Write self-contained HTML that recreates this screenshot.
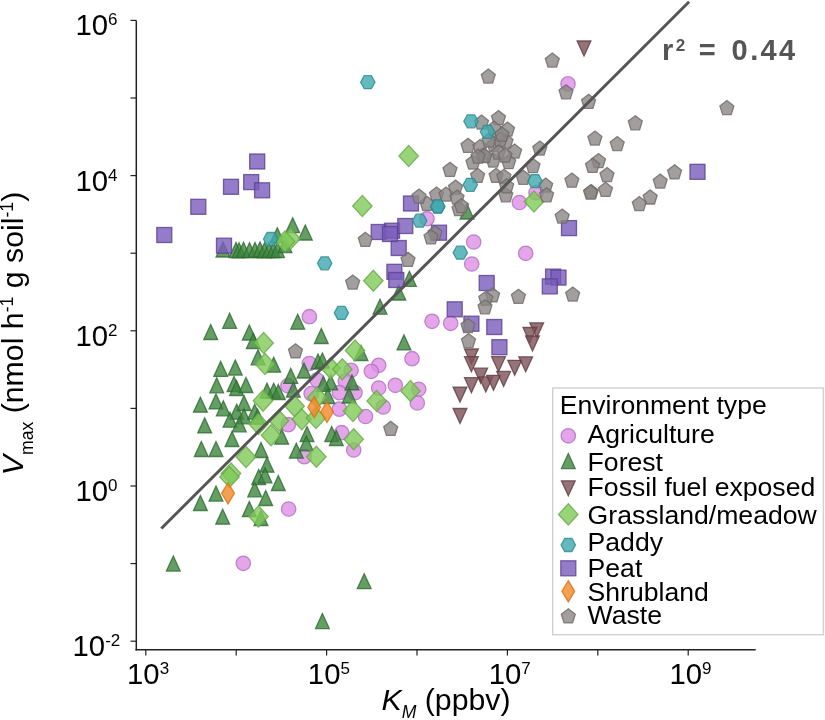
<!DOCTYPE html>
<html><head><meta charset="utf-8"><style>
html,body{margin:0;padding:0;background:#fff;}
svg{display:block;}
text{font-family:"Liberation Sans",Arial,sans-serif;fill:#000;}
.mA{fill:#dd8ee6;fill-opacity:0.8;stroke:#b070c0;stroke-opacity:0.8;stroke-width:1.3px}
.mF{fill:#3d863d;fill-opacity:0.8;stroke:#2e6a30;stroke-opacity:0.8;stroke-width:1.3px}
.mV{fill:#7c5056;fill-opacity:0.8;stroke:#5e3c42;stroke-opacity:0.8;stroke-width:1.3px}
.mG{fill:#80c958;fill-opacity:0.8;stroke:#68a848;stroke-opacity:0.8;stroke-width:1.3px}
.mP{fill:#3da8ae;fill-opacity:0.8;stroke:#2a8a8e;stroke-opacity:0.8;stroke-width:1.3px}
.mQ{fill:#795bba;fill-opacity:0.8;stroke:#5a4090;stroke-opacity:0.8;stroke-width:1.3px}
.mS{fill:#f28824;fill-opacity:0.8;stroke:#d87018;stroke-opacity:0.8;stroke-width:1.3px}
.mW{fill:#8b8686;fill-opacity:0.8;stroke:#6e6868;stroke-opacity:0.8;stroke-width:1.3px}
</style></head><body>
<svg width="825" height="720" viewBox="0 0 825 720">
<rect width="825" height="720" fill="#fff"/>
<g>
<circle cx="243.3" cy="563.3" r="7.20" class="mA"/>
<circle cx="309.4" cy="316.7" r="7.20" class="mA"/>
<circle cx="309.3" cy="363.5" r="7.20" class="mA"/>
<circle cx="351.1" cy="370.3" r="7.20" class="mA"/>
<circle cx="317.1" cy="380.0" r="7.20" class="mA"/>
<circle cx="345.3" cy="381.0" r="7.20" class="mA"/>
<circle cx="311.2" cy="393.6" r="7.20" class="mA"/>
<circle cx="339.4" cy="392.6" r="7.20" class="mA"/>
<circle cx="355.0" cy="392.6" r="7.20" class="mA"/>
<circle cx="339.4" cy="409.1" r="7.20" class="mA"/>
<circle cx="287.9" cy="385.8" r="7.20" class="mA"/>
<circle cx="304.3" cy="456.7" r="7.20" class="mA"/>
<circle cx="288.3" cy="424.7" r="7.20" class="mA"/>
<circle cx="341.7" cy="432.7" r="7.20" class="mA"/>
<circle cx="353.7" cy="450.0" r="7.20" class="mA"/>
<circle cx="365.5" cy="416.5" r="7.20" class="mA"/>
<circle cx="288.6" cy="509.0" r="7.20" class="mA"/>
<circle cx="432.0" cy="321.3" r="7.20" class="mA"/>
<circle cx="450.7" cy="323.3" r="7.20" class="mA"/>
<circle cx="412.0" cy="358.7" r="7.20" class="mA"/>
<circle cx="378.7" cy="365.3" r="7.20" class="mA"/>
<circle cx="371.3" cy="371.3" r="7.20" class="mA"/>
<circle cx="378.7" cy="388.0" r="7.20" class="mA"/>
<circle cx="395.3" cy="385.3" r="7.20" class="mA"/>
<circle cx="418.7" cy="389.3" r="7.20" class="mA"/>
<circle cx="417.3" cy="403.0" r="7.20" class="mA"/>
<circle cx="383.3" cy="407.0" r="7.20" class="mA"/>
<circle cx="427.0" cy="218.7" r="7.20" class="mA"/>
<circle cx="473.7" cy="242.0" r="7.20" class="mA"/>
<circle cx="471.7" cy="264.0" r="7.20" class="mA"/>
<circle cx="536.0" cy="192.7" r="7.20" class="mA"/>
<circle cx="519.4" cy="202.5" r="7.20" class="mA"/>
<circle cx="568.0" cy="83.9" r="7.20" class="mA"/>
<circle cx="525.7" cy="253.3" r="7.20" class="mA"/>
<path d="M223.0 242.0L229.9 257.0L216.1 257.0Z" class="mF"/>
<path d="M236.0 242.5L242.9 257.5L229.1 257.5Z" class="mF"/>
<path d="M239.0 242.8L245.9 257.8L232.1 257.8Z" class="mF"/>
<path d="M243.5 242.3L250.4 257.3L236.6 257.3Z" class="mF"/>
<path d="M249.5 242.7L256.4 257.7L242.6 257.7Z" class="mF"/>
<path d="M255.0 242.5L261.9 257.5L248.1 257.5Z" class="mF"/>
<path d="M260.0 242.0L266.9 257.0L253.1 257.0Z" class="mF"/>
<path d="M264.5 242.8L271.4 257.8L257.6 257.8Z" class="mF"/>
<path d="M269.0 242.5L275.9 257.5L262.1 257.5Z" class="mF"/>
<path d="M273.5 242.7L280.4 257.7L266.6 257.7Z" class="mF"/>
<path d="M277.5 242.5L284.4 257.5L270.6 257.5Z" class="mF"/>
<path d="M285.0 237.5L291.9 252.5L278.1 252.5Z" class="mF"/>
<path d="M277.3 227.7L284.2 242.7L270.4 242.7Z" class="mF"/>
<path d="M292.7 217.7L299.6 232.7L285.8 232.7Z" class="mF"/>
<path d="M305.3 225.0L312.2 240.0L298.4 240.0Z" class="mF"/>
<path d="M229.6 313.3L236.5 328.3L222.7 328.3Z" class="mF"/>
<path d="M210.7 324.5L217.6 339.5L203.8 339.5Z" class="mF"/>
<path d="M249.3 325.0L256.2 340.0L242.4 340.0Z" class="mF"/>
<path d="M253.3 333.5L260.2 348.5L246.4 348.5Z" class="mF"/>
<path d="M258.0 349.8L264.9 364.8L251.1 364.8Z" class="mF"/>
<path d="M220.7 361.4L227.6 376.4L213.8 376.4Z" class="mF"/>
<path d="M235.3 360.1L242.2 375.1L228.4 375.1Z" class="mF"/>
<path d="M216.7 377.8L223.6 392.8L209.8 392.8Z" class="mF"/>
<path d="M234.0 376.5L240.9 391.5L227.1 391.5Z" class="mF"/>
<path d="M236.5 380.5L243.4 395.5L229.6 395.5Z" class="mF"/>
<path d="M246.0 377.5L252.9 392.5L239.1 392.5Z" class="mF"/>
<path d="M200.4 397.2L207.3 412.2L193.5 412.2Z" class="mF"/>
<path d="M216.0 393.9L222.9 408.9L209.1 408.9Z" class="mF"/>
<path d="M223.3 400.8L230.2 415.8L216.4 415.8Z" class="mF"/>
<path d="M236.7 404.2L243.6 419.2L229.8 419.2Z" class="mF"/>
<path d="M244.0 395.5L250.9 410.5L237.1 410.5Z" class="mF"/>
<path d="M244.0 408.8L250.9 423.8L237.1 423.8Z" class="mF"/>
<path d="M230.0 412.2L236.9 427.2L223.1 427.2Z" class="mF"/>
<path d="M239.3 416.8L246.2 431.8L232.4 431.8Z" class="mF"/>
<path d="M204.7 417.9L211.6 432.9L197.8 432.9Z" class="mF"/>
<path d="M232.0 431.5L238.9 446.5L225.1 446.5Z" class="mF"/>
<path d="M201.3 441.5L208.2 456.5L194.4 456.5Z" class="mF"/>
<path d="M216.0 441.5L222.9 456.5L209.1 456.5Z" class="mF"/>
<path d="M261.0 442.5L267.9 457.5L254.1 457.5Z" class="mF"/>
<path d="M254.7 404.2L261.6 419.2L247.8 419.2Z" class="mF"/>
<path d="M216.0 486.1L222.9 501.1L209.1 501.1Z" class="mF"/>
<path d="M200.4 495.5L207.3 510.5L193.5 510.5Z" class="mF"/>
<path d="M222.7 509.2L229.6 524.2L215.8 524.2Z" class="mF"/>
<path d="M254.7 481.8L261.6 496.8L247.8 496.8Z" class="mF"/>
<path d="M249.3 501.5L256.2 516.5L242.4 516.5Z" class="mF"/>
<path d="M258.7 469.5L265.6 484.5L251.8 484.5Z" class="mF"/>
<path d="M173.3 556.1L180.2 571.1L166.4 571.1Z" class="mF"/>
<path d="M297.7 314.2L304.6 329.2L290.8 329.2Z" class="mF"/>
<path d="M321.3 328.5L328.2 343.5L314.4 343.5Z" class="mF"/>
<path d="M273.7 357.2L280.6 372.2L266.8 372.2Z" class="mF"/>
<path d="M290.8 368.4L297.7 383.4L283.9 383.4Z" class="mF"/>
<path d="M304.0 363.0L310.9 378.0L297.1 378.0Z" class="mF"/>
<path d="M293.3 382.2L300.2 397.2L286.4 397.2Z" class="mF"/>
<path d="M318.0 354.0L324.9 369.0L311.1 369.0Z" class="mF"/>
<path d="M322.4 353.0L329.3 368.0L315.5 368.0Z" class="mF"/>
<path d="M330.7 374.9L337.6 389.9L323.8 389.9Z" class="mF"/>
<path d="M323.4 376.4L330.3 391.4L316.5 391.4Z" class="mF"/>
<path d="M352.0 374.9L358.9 389.9L345.1 389.9Z" class="mF"/>
<path d="M327.8 388.5L334.7 403.5L320.9 403.5Z" class="mF"/>
<path d="M349.1 388.0L356.0 403.0L342.2 403.0Z" class="mF"/>
<path d="M267.0 383.2L273.9 398.2L260.1 398.2Z" class="mF"/>
<path d="M273.7 383.2L280.6 398.2L266.8 398.2Z" class="mF"/>
<path d="M278.3 384.5L285.2 399.5L271.4 399.5Z" class="mF"/>
<path d="M257.7 409.2L264.6 424.2L250.8 424.2Z" class="mF"/>
<path d="M281.7 429.2L288.6 444.2L274.8 444.2Z" class="mF"/>
<path d="M267.0 457.2L273.9 472.2L260.1 472.2Z" class="mF"/>
<path d="M265.0 467.8L271.9 482.8L258.1 482.8Z" class="mF"/>
<path d="M278.3 475.5L285.2 490.5L271.4 490.5Z" class="mF"/>
<path d="M307.0 426.5L313.9 441.5L300.1 441.5Z" class="mF"/>
<path d="M296.3 443.2L303.2 458.2L289.4 458.2Z" class="mF"/>
<path d="M306.3 435.8L313.2 450.8L299.4 450.8Z" class="mF"/>
<path d="M331.7 426.5L338.6 441.5L324.8 441.5Z" class="mF"/>
<path d="M336.3 430.5L343.2 445.5L329.4 445.5Z" class="mF"/>
<path d="M265.7 490.5L272.6 505.5L258.8 505.5Z" class="mF"/>
<path d="M261.0 510.5L267.9 525.5L254.1 525.5Z" class="mF"/>
<path d="M380.0 299.2L386.9 314.2L373.1 314.2Z" class="mF"/>
<path d="M404.0 334.9L410.9 349.9L397.1 349.9Z" class="mF"/>
<path d="M361.0 345.5L367.9 360.5L354.1 360.5Z" class="mF"/>
<path d="M364.2 573.7L371.1 588.7L357.3 588.7Z" class="mF"/>
<path d="M322.4 613.6L329.3 628.6L315.5 628.6Z" class="mF"/>
<path d="M409.4 271.3L416.3 286.3L402.5 286.3Z" class="mF"/>
<path d="M467.0 204.0L473.9 219.0L460.1 219.0Z" class="mF"/>
<path d="M398.8 285.0L405.7 300.0L391.9 300.0Z" class="mF"/>
<path d="M460.0 402.1L466.9 387.1L453.1 387.1Z" class="mV"/>
<path d="M460.0 423.5L466.9 408.5L453.1 408.5Z" class="mV"/>
<path d="M584.0 56.0L590.9 41.0L577.1 41.0Z" class="mV"/>
<path d="M536.7 337.8L543.6 322.8L529.8 322.8Z" class="mV"/>
<path d="M529.9 342.5L536.8 327.5L523.0 327.5Z" class="mV"/>
<path d="M532.5 351.0L539.4 336.0L525.6 336.0Z" class="mV"/>
<path d="M471.4 364.0L478.3 349.0L464.5 349.0Z" class="mV"/>
<path d="M471.4 371.7L478.3 356.7L464.5 356.7Z" class="mV"/>
<path d="M498.5 371.7L505.4 356.7L491.6 356.7Z" class="mV"/>
<path d="M480.7 383.2L487.6 368.2L473.8 368.2Z" class="mV"/>
<path d="M485.8 391.9L492.7 376.9L478.9 376.9Z" class="mV"/>
<path d="M493.5 390.3L500.4 375.3L486.6 375.3Z" class="mV"/>
<path d="M503.6 386.4L510.5 371.4L496.7 371.4Z" class="mV"/>
<path d="M514.7 375.3L521.6 360.3L507.8 360.3Z" class="mV"/>
<path d="M525.7 371.8L532.6 356.8L518.8 356.8Z" class="mV"/>
<path d="M471.4 392.7L478.3 377.7L464.5 377.7Z" class="mV"/>
<path d="M290.5 228.2L300.2 238.8L290.5 249.4L280.8 238.8Z" class="mG"/>
<path d="M285.0 230.9L294.8 241.5L285.0 252.1L275.2 241.5Z" class="mG"/>
<path d="M246.0 446.4L255.8 457.0L246.0 467.6L236.2 457.0Z" class="mG"/>
<path d="M231.0 462.9L240.8 473.5L231.0 484.1L221.2 473.5Z" class="mG"/>
<path d="M258.5 413.4L268.2 424.0L258.5 434.6L248.8 424.0Z" class="mG"/>
<path d="M229.5 466.4L239.2 477.0L229.5 487.6L219.8 477.0Z" class="mG"/>
<path d="M258.5 505.9L268.2 516.5L258.5 527.1L248.8 516.5Z" class="mG"/>
<path d="M263.7 332.4L273.4 343.0L263.7 353.6L253.9 343.0Z" class="mG"/>
<path d="M265.0 353.4L274.8 364.0L265.0 374.6L255.2 364.0Z" class="mG"/>
<path d="M355.0 339.9L364.8 350.5L355.0 361.1L345.2 350.5Z" class="mG"/>
<path d="M330.7 357.7L340.4 368.3L330.7 378.9L320.9 368.3Z" class="mG"/>
<path d="M342.3 358.7L352.1 369.3L342.3 379.9L332.6 369.3Z" class="mG"/>
<path d="M294.7 395.6L304.4 406.2L294.7 416.8L284.9 406.2Z" class="mG"/>
<path d="M317.1 386.9L326.9 397.5L317.1 408.1L307.4 397.5Z" class="mG"/>
<path d="M353.0 400.4L362.8 411.0L353.0 421.6L343.2 411.0Z" class="mG"/>
<path d="M263.0 390.1L272.8 400.7L263.0 411.3L253.2 400.7Z" class="mG"/>
<path d="M279.0 410.1L288.8 420.7L279.0 431.3L269.2 420.7Z" class="mG"/>
<path d="M271.0 424.7L280.8 435.3L271.0 445.9L261.2 435.3Z" class="mG"/>
<path d="M301.7 408.7L311.4 419.3L301.7 429.9L291.9 419.3Z" class="mG"/>
<path d="M316.3 446.1L326.1 456.7L316.3 467.3L306.6 456.7Z" class="mG"/>
<path d="M353.7 428.7L363.4 439.3L353.7 449.9L343.9 439.3Z" class="mG"/>
<path d="M316.0 407.4L325.8 418.0L316.0 428.6L306.2 418.0Z" class="mG"/>
<path d="M376.7 390.4L386.4 401.0L376.7 411.6L366.9 401.0Z" class="mG"/>
<path d="M362.3 195.4L372.1 206.0L362.3 216.6L352.6 206.0Z" class="mG"/>
<path d="M373.3 270.1L383.1 280.7L373.3 291.3L363.6 280.7Z" class="mG"/>
<path d="M408.7 145.4L418.4 156.0L408.7 166.6L398.9 156.0Z" class="mG"/>
<path d="M534.0 190.9L543.8 201.5L534.0 212.1L524.2 201.5Z" class="mG"/>
<path d="M410.5 380.4L420.2 391.0L410.5 401.6L400.8 391.0Z" class="mG"/>
<rect x="249.7" y="154.0" width="15.0" height="15.0" class="mQ"/>
<rect x="223.5" y="179.3" width="15.0" height="15.0" class="mQ"/>
<rect x="243.7" y="174.6" width="15.0" height="15.0" class="mQ"/>
<rect x="254.6" y="182.8" width="15.0" height="15.0" class="mQ"/>
<rect x="190.8" y="199.3" width="15.0" height="15.0" class="mQ"/>
<rect x="156.8" y="227.5" width="15.0" height="15.0" class="mQ"/>
<rect x="216.5" y="238.2" width="15.0" height="15.0" class="mQ"/>
<rect x="447.2" y="301.8" width="15.0" height="15.0" class="mQ"/>
<rect x="371.2" y="224.5" width="15.0" height="15.0" class="mQ"/>
<rect x="384.5" y="223.2" width="15.0" height="15.0" class="mQ"/>
<rect x="397.8" y="218.5" width="15.0" height="15.0" class="mQ"/>
<rect x="391.2" y="240.5" width="15.0" height="15.0" class="mQ"/>
<rect x="403.5" y="196.0" width="15.0" height="15.0" class="mQ"/>
<rect x="386.9" y="264.3" width="15.0" height="15.0" class="mQ"/>
<rect x="431.5" y="225.2" width="15.0" height="15.0" class="mQ"/>
<rect x="479.2" y="275.5" width="15.0" height="15.0" class="mQ"/>
<rect x="690.0" y="164.3" width="15.0" height="15.0" class="mQ"/>
<rect x="561.5" y="220.6" width="15.0" height="15.0" class="mQ"/>
<rect x="545.6" y="269.1" width="15.0" height="15.0" class="mQ"/>
<rect x="551.0" y="270.1" width="15.0" height="15.0" class="mQ"/>
<rect x="542.3" y="278.9" width="15.0" height="15.0" class="mQ"/>
<rect x="463.9" y="316.2" width="15.0" height="15.0" class="mQ"/>
<rect x="486.8" y="319.5" width="15.0" height="15.0" class="mQ"/>
<rect x="491.9" y="339.7" width="15.0" height="15.0" class="mQ"/>
<rect x="382.5" y="226.5" width="15.0" height="15.0" class="mQ"/>
<rect x="388.8" y="272.5" width="15.0" height="15.0" class="mQ"/>
<path d="M228.0 482.7L234.4 493.3L228.0 503.9L221.6 493.3Z" class="mS"/>
<path d="M314.2 396.6L320.6 407.2L314.2 417.8L307.8 407.2Z" class="mS"/>
<path d="M327.0 401.4L333.4 412.0L327.0 422.6L320.6 412.0Z" class="mS"/>
<polygon points="295.5,343.8 302.5,349.2 299.8,357.9 291.2,357.9 288.5,349.2" class="mW"/>
<polygon points="390.7,421.3 397.7,426.7 395.0,435.4 386.4,435.4 383.7,426.7" class="mW"/>
<polygon points="365.3,232.3 372.3,237.7 369.6,246.4 361.0,246.4 358.3,237.7" class="mW"/>
<polygon points="352.7,275.0 359.7,280.4 357.0,289.1 348.4,289.1 345.7,280.4" class="mW"/>
<polygon points="408.0,252.3 415.0,257.7 412.3,266.4 403.7,266.4 401.0,257.7" class="mW"/>
<polygon points="427.0,196.3 434.0,201.7 431.3,210.4 422.7,210.4 420.0,201.7" class="mW"/>
<polygon points="435.0,225.7 442.0,231.1 439.3,239.8 430.7,239.8 428.0,231.1" class="mW"/>
<polygon points="431.0,229.7 438.0,235.1 435.3,243.8 426.7,243.8 424.0,235.1" class="mW"/>
<polygon points="419.0,189.0 426.0,194.4 423.3,203.1 414.7,203.1 412.0,194.4" class="mW"/>
<polygon points="436.5,187.0 443.5,192.4 440.8,201.1 432.2,201.1 429.5,192.4" class="mW"/>
<polygon points="446.0,187.0 453.0,192.4 450.3,201.1 441.7,201.1 439.0,192.4" class="mW"/>
<polygon points="455.5,180.0 462.5,185.4 459.8,194.1 451.2,194.1 448.5,185.4" class="mW"/>
<polygon points="457.0,190.0 464.0,195.4 461.3,204.1 452.7,204.1 450.0,195.4" class="mW"/>
<polygon points="459.0,201.5 466.0,206.9 463.3,215.6 454.7,215.6 452.0,206.9" class="mW"/>
<polygon points="450.0,162.3 457.0,167.7 454.3,176.4 445.7,176.4 443.0,167.7" class="mW"/>
<polygon points="481.5,115.0 488.5,120.4 485.8,129.1 477.2,129.1 474.5,120.4" class="mW"/>
<polygon points="498.5,110.5 505.5,115.9 502.8,124.6 494.2,124.6 491.5,115.9" class="mW"/>
<polygon points="468.0,138.3 475.0,143.7 472.3,152.4 463.7,152.4 461.0,143.7" class="mW"/>
<polygon points="480.0,139.5 487.0,144.9 484.3,153.6 475.7,153.6 473.0,144.9" class="mW"/>
<polygon points="494.0,137.2 501.0,142.6 498.3,151.3 489.7,151.3 487.0,142.6" class="mW"/>
<polygon points="506.0,134.0 513.0,139.4 510.3,148.1 501.7,148.1 499.0,139.4" class="mW"/>
<polygon points="507.5,122.0 514.5,127.4 511.8,136.1 503.2,136.1 500.5,127.4" class="mW"/>
<polygon points="514.6,144.0 521.6,149.4 518.9,158.1 510.3,158.1 507.6,149.4" class="mW"/>
<polygon points="473.0,155.0 480.0,160.4 477.3,169.1 468.7,169.1 466.0,160.4" class="mW"/>
<polygon points="493.2,153.0 500.2,158.4 497.5,167.1 488.9,167.1 486.2,158.4" class="mW"/>
<polygon points="508.7,154.6 515.7,160.0 513.0,168.7 504.4,168.7 501.7,160.0" class="mW"/>
<polygon points="483.0,148.0 490.0,153.4 487.3,162.1 478.7,162.1 476.0,153.4" class="mW"/>
<polygon points="477.6,168.3 484.6,173.7 481.9,182.4 473.3,182.4 470.6,173.7" class="mW"/>
<polygon points="496.1,168.3 503.1,173.7 500.4,182.4 491.8,182.4 489.1,173.7" class="mW"/>
<polygon points="503.9,169.2 510.9,174.6 508.2,183.3 499.6,183.3 496.9,174.6" class="mW"/>
<polygon points="539.8,141.0 546.8,146.4 544.1,155.1 535.5,155.1 532.8,146.4" class="mW"/>
<polygon points="533.0,158.5 540.0,163.9 537.3,172.6 528.7,172.6 526.0,163.9" class="mW"/>
<polygon points="523.3,170.2 530.3,175.6 527.6,184.3 519.0,184.3 516.3,175.6" class="mW"/>
<polygon points="545.7,178.0 552.7,183.4 550.0,192.1 541.4,192.1 538.7,183.4" class="mW"/>
<polygon points="546.6,187.7 553.6,193.1 550.9,201.8 542.3,201.8 539.6,193.1" class="mW"/>
<polygon points="505.8,187.7 512.8,193.1 510.1,201.8 501.5,201.8 498.8,193.1" class="mW"/>
<polygon points="506.7,178.7 513.7,184.1 511.0,192.8 502.4,192.8 499.7,184.1" class="mW"/>
<polygon points="571.9,173.1 578.9,178.5 576.2,187.2 567.6,187.2 564.9,178.5" class="mW"/>
<polygon points="562.2,209.0 569.2,214.4 566.5,223.1 557.9,223.1 555.2,214.4" class="mW"/>
<polygon points="488.3,69.0 495.3,74.4 492.6,83.1 484.0,83.1 481.3,74.4" class="mW"/>
<polygon points="566.0,84.7 573.0,90.1 570.3,98.8 561.7,98.8 559.0,90.1" class="mW"/>
<polygon points="588.6,94.3 595.6,99.7 592.9,108.4 584.3,108.4 581.6,99.7" class="mW"/>
<polygon points="500.2,132.3 507.2,137.7 504.5,146.4 495.9,146.4 493.2,137.7" class="mW"/>
<polygon points="484.8,148.6 491.8,154.0 489.1,162.7 480.5,162.7 477.8,154.0" class="mW"/>
<polygon points="498.4,145.0 505.4,150.4 502.7,159.1 494.1,159.1 491.4,150.4" class="mW"/>
<polygon points="494.0,121.0 501.0,126.4 498.3,135.1 489.7,135.1 487.0,126.4" class="mW"/>
<polygon points="635.3,115.7 642.3,121.1 639.6,129.8 631.0,129.8 628.3,121.1" class="mW"/>
<polygon points="726.9,100.5 733.9,105.9 731.2,114.6 722.6,114.6 719.9,105.9" class="mW"/>
<polygon points="594.9,131.0 601.9,136.4 599.2,145.1 590.6,145.1 587.9,136.4" class="mW"/>
<polygon points="617.2,136.5 624.2,141.9 621.5,150.6 612.9,150.6 610.2,141.9" class="mW"/>
<polygon points="598.5,153.5 605.5,158.9 602.8,167.6 594.2,167.6 591.5,158.9" class="mW"/>
<polygon points="592.5,158.3 599.5,163.7 596.8,172.4 588.2,172.4 585.5,163.7" class="mW"/>
<polygon points="607.0,167.5 614.0,172.9 611.3,181.6 602.7,181.6 600.0,172.9" class="mW"/>
<polygon points="674.6,164.8 681.6,170.2 678.9,178.9 670.3,178.9 667.6,170.2" class="mW"/>
<polygon points="660.2,174.0 667.2,179.4 664.5,188.1 655.9,188.1 653.2,179.4" class="mW"/>
<polygon points="591.3,184.5 598.3,189.9 595.6,198.6 587.0,198.6 584.3,189.9" class="mW"/>
<polygon points="605.5,182.3 612.5,187.7 609.8,196.4 601.2,196.4 598.5,187.7" class="mW"/>
<polygon points="650.2,189.9 657.2,195.3 654.5,204.0 645.9,204.0 643.2,195.3" class="mW"/>
<polygon points="639.3,196.5 646.3,201.9 643.6,210.6 635.0,210.6 632.3,201.9" class="mW"/>
<polygon points="572.7,287.0 579.7,292.4 577.0,301.1 568.4,301.1 565.7,292.4" class="mW"/>
<polygon points="492.6,287.8 499.6,293.2 496.9,301.9 488.3,301.9 485.6,293.2" class="mW"/>
<polygon points="485.8,291.2 492.8,296.6 490.1,305.3 481.5,305.3 478.8,296.6" class="mW"/>
<polygon points="485.0,299.7 492.0,305.1 489.3,313.8 480.7,313.8 478.0,305.1" class="mW"/>
<polygon points="518.4,289.2 525.4,294.6 522.7,303.3 514.1,303.3 511.4,294.6" class="mW"/>
<polygon points="468.0,318.4 475.0,323.8 472.3,332.5 463.7,332.5 461.0,323.8" class="mW"/>
<polygon points="468.5,333.5 475.5,338.9 472.8,347.6 464.2,347.6 461.5,338.9" class="mW"/>
<polygon points="489.0,133.0 496.0,138.4 493.3,147.1 484.7,147.1 482.0,138.4" class="mW"/>
<polygon points="502.0,127.0 509.0,132.4 506.3,141.1 497.7,141.1 495.0,132.4" class="mW"/>
<polygon points="478.0,149.0 485.0,154.4 482.3,163.1 473.7,163.1 471.0,154.4" class="mW"/>
<polygon points="505.0,148.0 512.0,153.4 509.3,162.1 500.7,162.1 498.0,153.4" class="mW"/>
<polygon points="461.5,198.5 468.5,203.9 465.8,212.6 457.2,212.6 454.5,203.9" class="mW"/>
<polygon points="552.3,53.0 559.3,58.4 556.6,67.1 548.0,67.1 545.3,58.4" class="mW"/>
<polygon points="590.5,185.0 597.5,190.4 594.8,199.1 586.2,199.1 583.5,190.4" class="mW"/>
<polygon points="277.9,239.0 274.3,245.5 267.1,245.5 263.5,239.0 267.1,232.5 274.3,232.5" class="mP"/>
<polygon points="348.6,312.9 345.0,319.4 337.8,319.4 334.2,312.9 337.8,306.4 345.0,306.4" class="mP"/>
<polygon points="331.9,263.3 328.3,269.8 321.1,269.8 317.5,263.3 321.1,256.8 328.3,256.8" class="mP"/>
<polygon points="444.9,206.7 441.3,213.2 434.1,213.2 430.5,206.7 434.1,200.2 441.3,200.2" class="mP"/>
<polygon points="426.9,220.7 423.3,227.2 416.1,227.2 412.5,220.7 416.1,214.2 423.3,214.2" class="mP"/>
<polygon points="467.5,252.7 463.9,259.2 456.7,259.2 453.1,252.7 456.7,246.2 463.9,246.2" class="mP"/>
<polygon points="478.2,121.3 474.6,127.8 467.4,127.8 463.8,121.3 467.4,114.8 474.6,114.8" class="mP"/>
<polygon points="494.7,131.8 491.1,138.3 483.9,138.3 480.3,131.8 483.9,125.3 491.1,125.3" class="mP"/>
<polygon points="542.2,181.1 538.6,187.6 531.4,187.6 527.8,181.1 531.4,174.6 538.6,174.6" class="mP"/>
<polygon points="477.5,184.8 473.9,191.3 466.7,191.3 463.1,184.8 466.7,178.3 473.9,178.3" class="mP"/>
<polygon points="445.0,206.4 441.4,212.9 434.2,212.9 430.6,206.4 434.2,199.9 441.4,199.9" class="mP"/>
<polygon points="375.0,82.2 371.4,88.7 364.2,88.7 360.6,82.2 364.2,75.7 371.4,75.7" class="mP"/>
</g>
<line x1="161.3" y1="528.5" x2="689.1" y2="1.8" stroke="#555" stroke-width="3"/>
<line x1="136.3" y1="20.4" x2="136.3" y2="650.6" stroke="#222" stroke-width="1.5"/>
<line x1="135.5" y1="649.8" x2="755.7" y2="649.8" stroke="#222" stroke-width="1.5"/>
<line x1="130.5" y1="641.2" x2="136.3" y2="641.2" stroke="#222" stroke-width="1.2"/>
<line x1="130.5" y1="563.6" x2="136.3" y2="563.6" stroke="#222" stroke-width="1.2"/>
<line x1="130.5" y1="486.0" x2="136.3" y2="486.0" stroke="#222" stroke-width="1.2"/>
<line x1="130.5" y1="408.4" x2="136.3" y2="408.4" stroke="#222" stroke-width="1.2"/>
<line x1="130.5" y1="330.8" x2="136.3" y2="330.8" stroke="#222" stroke-width="1.2"/>
<line x1="130.5" y1="253.2" x2="136.3" y2="253.2" stroke="#222" stroke-width="1.2"/>
<line x1="130.5" y1="175.6" x2="136.3" y2="175.6" stroke="#222" stroke-width="1.2"/>
<line x1="130.5" y1="98.0" x2="136.3" y2="98.0" stroke="#222" stroke-width="1.2"/>
<line x1="130.5" y1="20.4" x2="136.3" y2="20.4" stroke="#222" stroke-width="1.2"/>
<line x1="145.8" y1="649.8" x2="145.8" y2="655.6" stroke="#222" stroke-width="1.2"/>
<line x1="236.2" y1="649.8" x2="236.2" y2="655.6" stroke="#222" stroke-width="1.2"/>
<line x1="326.6" y1="649.8" x2="326.6" y2="655.6" stroke="#222" stroke-width="1.2"/>
<line x1="417.0" y1="649.8" x2="417.0" y2="655.6" stroke="#222" stroke-width="1.2"/>
<line x1="507.4" y1="649.8" x2="507.4" y2="655.6" stroke="#222" stroke-width="1.2"/>
<line x1="597.8" y1="649.8" x2="597.8" y2="655.6" stroke="#222" stroke-width="1.2"/>
<line x1="688.2" y1="649.8" x2="688.2" y2="655.6" stroke="#222" stroke-width="1.2"/>
<text x="117.5" y="35.4" font-size="29.3" text-anchor="end">10<tspan dy="-10" font-size="17">6</tspan></text>
<text x="117.5" y="190.6" font-size="29.3" text-anchor="end">10<tspan dy="-10" font-size="17">4</tspan></text>
<text x="117.5" y="345.8" font-size="29.3" text-anchor="end">10<tspan dy="-10" font-size="17">2</tspan></text>
<text x="117.5" y="501.0" font-size="29.3" text-anchor="end">10<tspan dy="-10" font-size="17">0</tspan></text>
<text x="120.3" y="656.2" font-size="29.3" text-anchor="end">10<tspan dy="-10" font-size="17">-2</tspan></text>
<text x="148.1" y="684.3" font-size="29.3" text-anchor="middle">10<tspan dy="-10" font-size="17">3</tspan></text>
<text x="328.9" y="684.3" font-size="29.3" text-anchor="middle">10<tspan dy="-10" font-size="17">5</tspan></text>
<text x="509.7" y="684.3" font-size="29.3" text-anchor="middle">10<tspan dy="-10" font-size="17">7</tspan></text>
<text x="690.5" y="684.3" font-size="29.3" text-anchor="middle">10<tspan dy="-10" font-size="17">9</tspan></text>
<text x="446" y="709.6" font-size="30.3" text-anchor="middle"><tspan font-style="italic">K</tspan><tspan font-style="italic" font-size="17.6" dy="8.5">M</tspan><tspan dy="-8.5"> (ppbv)</tspan></text>
<text transform="translate(23,333.5) rotate(-90)" font-size="30.3" text-anchor="middle"><tspan font-style="italic">V</tspan><tspan font-size="17.6" dy="9.5">max</tspan><tspan dy="-9.5"> (nmol h</tspan><tspan font-size="17.6" dy="-10.5">-1</tspan><tspan dy="10.5"> g soil</tspan><tspan font-size="17.6" dy="-10.5">-1</tspan><tspan dy="10.5">)</tspan></text>
<text x="662" y="59.8" font-size="29" font-weight="bold" fill="#555" style="fill:#555;letter-spacing:2.4px">r<tspan font-size="17" dy="-9">2</tspan><tspan dy="9" dx="0.8"> =</tspan><tspan dx="3"> 0.44</tspan></text>
<rect x="552.7" y="388" width="270.7" height="246.7" fill="#fff" stroke="#d0d0d0" stroke-width="1.4"/>
<text x="559.8" y="414.3" font-size="26.6">Environment type</text>
<circle cx="568.3" cy="435.8" r="7.20" class="mA"/>
<text x="587.6" y="442.6" font-size="26.6">Agriculture</text>
<path d="M568.3 453.6L575.2 468.6L561.4 468.6Z" class="mF"/>
<text x="587.6" y="470.6" font-size="26.6">Forest</text>
<path d="M568.3 495.8L575.2 480.8L561.4 480.8Z" class="mV"/>
<text x="587.6" y="496.2" font-size="26.6">Fossil fuel exposed</text>
<path d="M568.3 503.8L578.0 514.4L568.3 525.0L558.5 514.4Z" class="mG"/>
<text x="587.6" y="524.3" font-size="26.6">Grassland/meadow</text>
<polygon points="575.5,545.0 571.9,551.5 564.7,551.5 561.1,545.0 564.7,538.5 571.9,538.5" class="mP"/>
<text x="587.6" y="550.8" font-size="26.6">Paddy</text>
<rect x="560.8" y="560.8" width="15.0" height="15.0" class="mQ"/>
<text x="587.6" y="576.5" font-size="26.6">Peat</text>
<path d="M568.3 580.7L574.7 591.3L568.3 601.9L561.9 591.3Z" class="mS"/>
<text x="587.6" y="601.3" font-size="26.6">Shrubland</text>
<polygon points="568.3,608.8 575.3,614.2 572.6,622.9 564.0,622.9 561.3,614.2" class="mW"/>
<text x="587.6" y="624.2" font-size="26.6">Waste</text>
</svg></body></html>
